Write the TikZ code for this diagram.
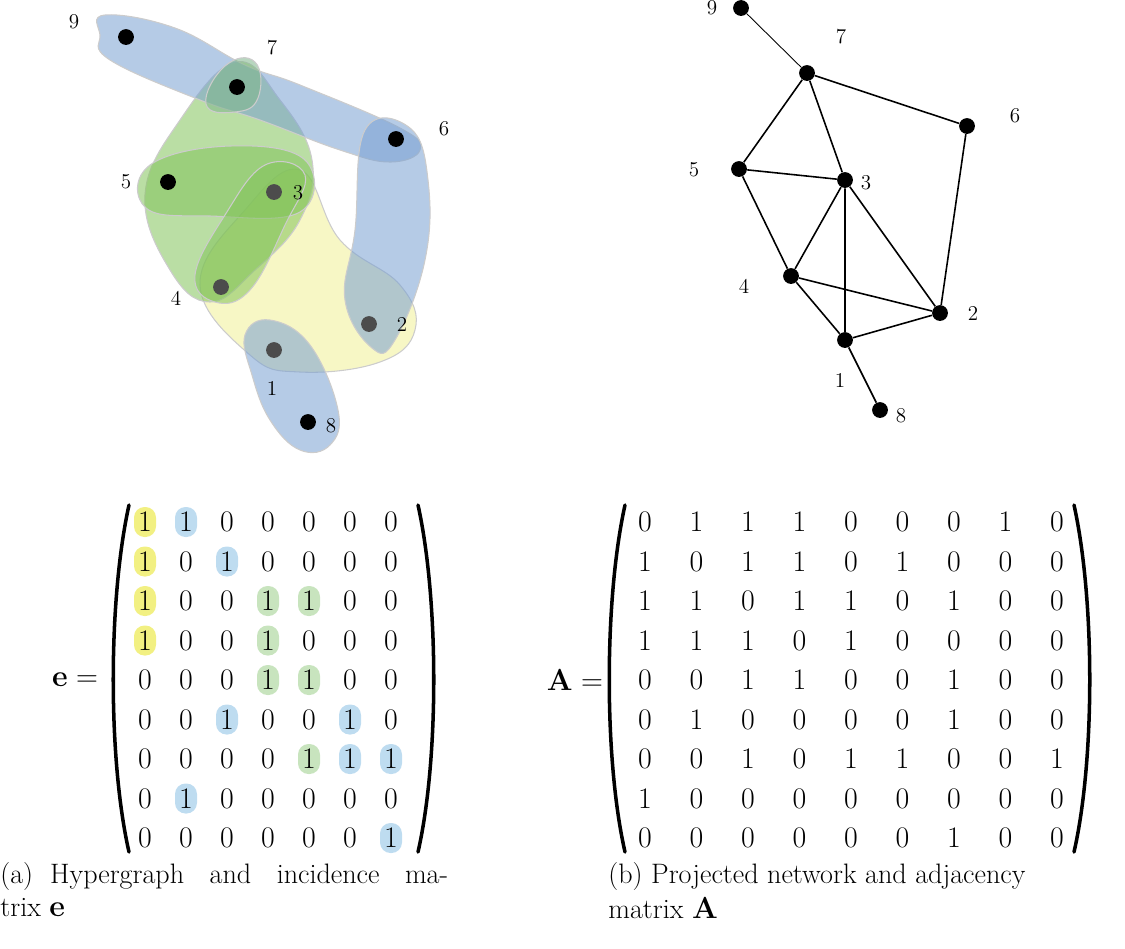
\documentclass[tikz,border=0pt]{standalone}
\usepackage{amsmath}
\begin{document}
\begin{tikzpicture}[x=0.02cm,y=-0.02cm,
  dot/.style={circle,fill=black,inner sep=0pt,minimum size=9pt},
  gdot/.style={circle,fill=black!70,inner sep=0pt,minimum size=9pt},
  lab/.style={font=\fontsize{12}{14}\selectfont},
  edge/.style={draw=black!20,line width=0.6pt,fill opacity=0.55},
  ent/.style={font=\fontsize{17}{20}\selectfont,inner sep=0pt},
  paren/.style={line width=2pt,line cap=round},
  captext/.style={font=\fontsize{16}{20}\selectfont,anchor=west,inner sep=0pt}]
\useasboundingbox (0,0) rectangle (1125,948);
\definecolor{hb}{RGB}{120,160,210}
\definecolor{hy}{RGB}{240,240,150}
\definecolor{hg}{RGB}{130,195,90}
\definecolor{yb}{RGB}{242,240,130}
\definecolor{bb}{RGB}{190,220,240}
\definecolor{gb}{RGB}{200,228,190}
% hyperedges
\path[edge,fill=hy] plot[smooth cycle,tension=0.7] coordinates {(200,285) (245,210) (300,170) (340,240) (400,285) (415,330) (380,362) (300,372) (250,355)};
\path[edge,fill=hg] plot[smooth cycle,tension=0.7] coordinates {(236,62) (280,100) (312,160) (300,220) (255,270) (210,302) (170,270) (145,195) (180,120)};
\path[edge,fill=hg] plot[smooth cycle,tension=0.7] coordinates {(150,165) (230,146) (305,160) (300,212) (210,216) (146,208)};
\path[edge,fill=hg] plot[smooth cycle,tension=0.7] coordinates {(265,165) (305,175) (285,225) (250,290) (215,302) (195,275) (225,215)};
\path[edge,fill=hb] plot[smooth cycle,tension=0.7] coordinates {(105,15) (175,28) (245,65) (300,85) (400,128) (420,150) (390,162) (340,150) (260,120) (200,100) (110,60) (100,35)};
\path[edge,fill=hb] plot[smooth cycle,tension=0.7] coordinates {(365,130) (410,128) (428,180) (425,260) (395,340) (372,348) (345,300) (355,230)};
\path[edge,fill=hb] plot[smooth cycle,tension=0.7] coordinates {(245,335) (270,320) (310,345) (338,410) (330,445) (300,450) (270,420) (252,375)};
\path[edge,fill=hg!60!hb] plot[smooth cycle,tension=0.8] coordinates {(225,66) (255,62) (258,98) (235,112) (206,104)};
% hypergraph nodes
\node[dot] (h9) at (126,37) {}; \node[dot] (h7) at (237,87) {};
\node[dot] (h6) at (396,139) {}; \node[dot] (h5) at (168,182) {};
\node[gdot] (h3) at (274,192) {}; \node[gdot] (h4) at (221,287) {};
\node[gdot] (h2) at (369,324) {}; \node[gdot] (h1) at (274,350) {};
\node[dot] (h8) at (308,422) {};
\node[lab] at (74,22) {9}; \node[lab] at (272,48) {7}; \node[lab] at (444,129) {6};
\node[lab] at (126,182) {5}; \node[lab] at (298,193) {3}; \node[lab] at (176,298) {4};
\node[lab] at (402,324) {2}; \node[lab] at (272,388) {1}; \node[lab] at (331,426) {8};
% projected network
\node[dot] (p9) at (741,8) {}; \node[dot] (p7) at (807,73) {};
\node[dot] (p6) at (967,126) {}; \node[dot] (p5) at (739,169) {};
\node[dot] (p3) at (845,180) {}; \node[dot] (p4) at (791,276) {};
\node[dot] (p2) at (940,313) {}; \node[dot] (p1) at (845,340) {};
\node[dot] (p8) at (880,410) {};
\node[lab] at (712,8) {9}; \node[lab] at (841,37) {7}; \node[lab] at (1015,116) {6};
\node[lab] at (694,170) {5}; \node[lab] at (866,183) {3}; \node[lab] at (744,286) {4};
\node[lab] at (973,313) {2}; \node[lab] at (840,380) {1}; \node[lab] at (901,416) {8};
\draw[line width=0.9pt] (p1)--(p2) (p1)--(p3) (p1)--(p4) (p1)--(p8) (p2)--(p3) (p2)--(p4) (p2)--(p6)
  (p3)--(p4) (p3)--(p5) (p3)--(p7) (p4)--(p5) (p5)--(p7) (p6)--(p7);
\draw[line width=0.5pt] (p7)--(p9);
% incidence matrix
\foreach \r/\row in {1/{1,1,0,0,0,0,0},2/{1,0,1,0,0,0,0},3/{1,0,0,1,1,0,0},4/{1,0,0,1,0,0,0},5/{0,0,0,1,1,0,0},6/{0,0,1,0,0,1,0},7/{0,0,0,0,1,1,1},8/{0,1,0,0,0,0,0},9/{0,0,0,0,0,0,1}}{
  \foreach \v [count=\c] in \row {
    \pgfmathsetmacro\xx{145+41*(\c-1)}
    \pgfmathsetmacro\yy{522+39.5*(\r-1)}
    \ifnum\v=1
      \ifnum\c=1 \def\hc{yb}\else\ifnum\c=4 \def\hc{gb}\else\ifnum\c=5 \def\hc{gb}\else\def\hc{bb}\fi\fi\fi
      \fill[\hc,rounded corners=6pt] (\xx-11,\yy-15) rectangle (\xx+11,\yy+15);
    \fi
    \node[ent] (e\r\c) at (\xx,\yy) {\v};
  }
}
\draw[paren] (129,505) .. controls (108,600) and (108,760) .. (129,852);
\draw[paren] (418,505) .. controls (439,600) and (439,760) .. (418,852);
\node[ent] at (75,680) {$\mathbf{e}=$};
% adjacency matrix
\foreach \r/\row in {1/{0,1,1,1,0,0,0,1,0},2/{1,0,1,1,0,1,0,0,0},3/{1,1,0,1,1,0,1,0,0},4/{1,1,1,0,1,0,0,0,0},5/{0,0,1,1,0,0,1,0,0},6/{0,1,0,0,0,0,1,0,0},7/{0,0,1,0,1,1,0,0,1},8/{1,0,0,0,0,0,0,0,0},9/{0,0,0,0,0,0,1,0,0}}{
  \foreach \v [count=\c] in \row {
    \pgfmathsetmacro\xx{645+51.5*(\c-1)}
    \pgfmathsetmacro\yy{522+39.5*(\r-1)}
    \node[ent] (a\r\c) at (\xx,\yy) {\v};
  }
}
\draw[paren] (625,505) .. controls (604,600) and (604,760) .. (625,852);
\draw[paren] (1074,505) .. controls (1095,600) and (1095,760) .. (1074,852);
\node[ent] at (575,680) {$\mathbf{A}=$};
% captions
\node[captext] at (0,876) {(a)\ \ Hypergraph\ \ \ and\ \ \ incidence\ \ \ ma-};
\node[captext] at (0,908) {trix $\mathbf{e}$};
\node[captext] at (608,876) {(b) Projected network and adjacency};
\node[captext] at (608,908) {matrix $\mathbf{A}$};
\end{tikzpicture}
\end{document}
